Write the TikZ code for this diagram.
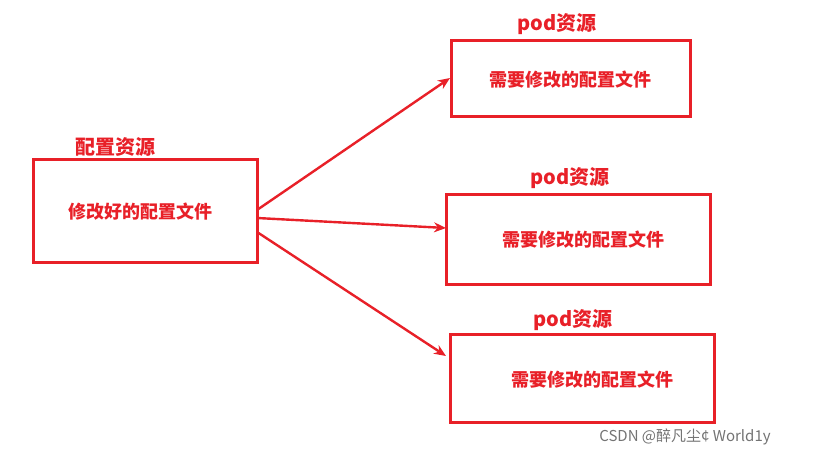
\documentclass[tikz,border=0pt]{standalone}
\usepackage{fontspec}
\newfontfamily\cjk{Noto Sans CJK SC}
\usetikzlibrary{arrows.meta}
\definecolor{boxred}{RGB}{232,32,40}
\tikzset{
  cfgbox/.style={draw=boxred, line width=3pt},
  boxtext/.style={text=boxred, font=\cjk\bfseries\fontsize{18}{20}\selectfont},
  boxtitle/.style={text=boxred, font=\cjk\bfseries\fontsize{20}{22}\selectfont},
  link/.style={draw=boxred, line width=2.4pt, -{Stealth[length=12pt,width=10pt]}}
}
\begin{document}
\begin{tikzpicture}[x=1pt,y=-1pt]
  \useasboundingbox (0,0) rectangle (815,457);
  % left box
  \draw [cfgbox] (33,160) rectangle (257,263);
  \node [boxtitle] (srctitle) at (115,147) {配置资源};
  \node [boxtext] (src) at (140,212) {修改好的配置文件};
  \coordinate (srcA) at (257,210);
  \coordinate (srcB) at (257,218);
  \coordinate (srcC) at (257,232);
  % pod boxes
  \draw [cfgbox] (451,41) rectangle (690,117);
  \node [boxtitle] (podtitleA) at (557,24) {pod资源};
  \node [boxtext] (podA) at (570,80) {需要修改的配置文件};
  \coordinate (inA) at (450,78);

  \draw [cfgbox] (446,195) rectangle (710,285);
  \node [boxtitle] (podtitleB) at (570,178) {pod资源};
  \node [boxtext] (podB) at (583,240) {需要修改的配置文件};
  \coordinate (inB) at (446,228);

  \draw [cfgbox] (450,335) rectangle (714,423);
  \node [boxtitle] (podtitleC) at (573,320) {pod资源};
  \node [boxtext] (podC) at (592,380) {需要修改的配置文件};
  \coordinate (inC) at (446,356);
  % arrows
  \draw [link] (srcA) -- (inA);
  \draw [link] (srcB) -- (inB);
  \draw [link] (srcC) -- (inC);
  % watermark
  \node [text=black!55, font=\cjk\fontsize{15}{17}\selectfont] (mark) at (685,437) {CSDN @醉凡尘¢ World1y};
\end{tikzpicture}
\end{document}
